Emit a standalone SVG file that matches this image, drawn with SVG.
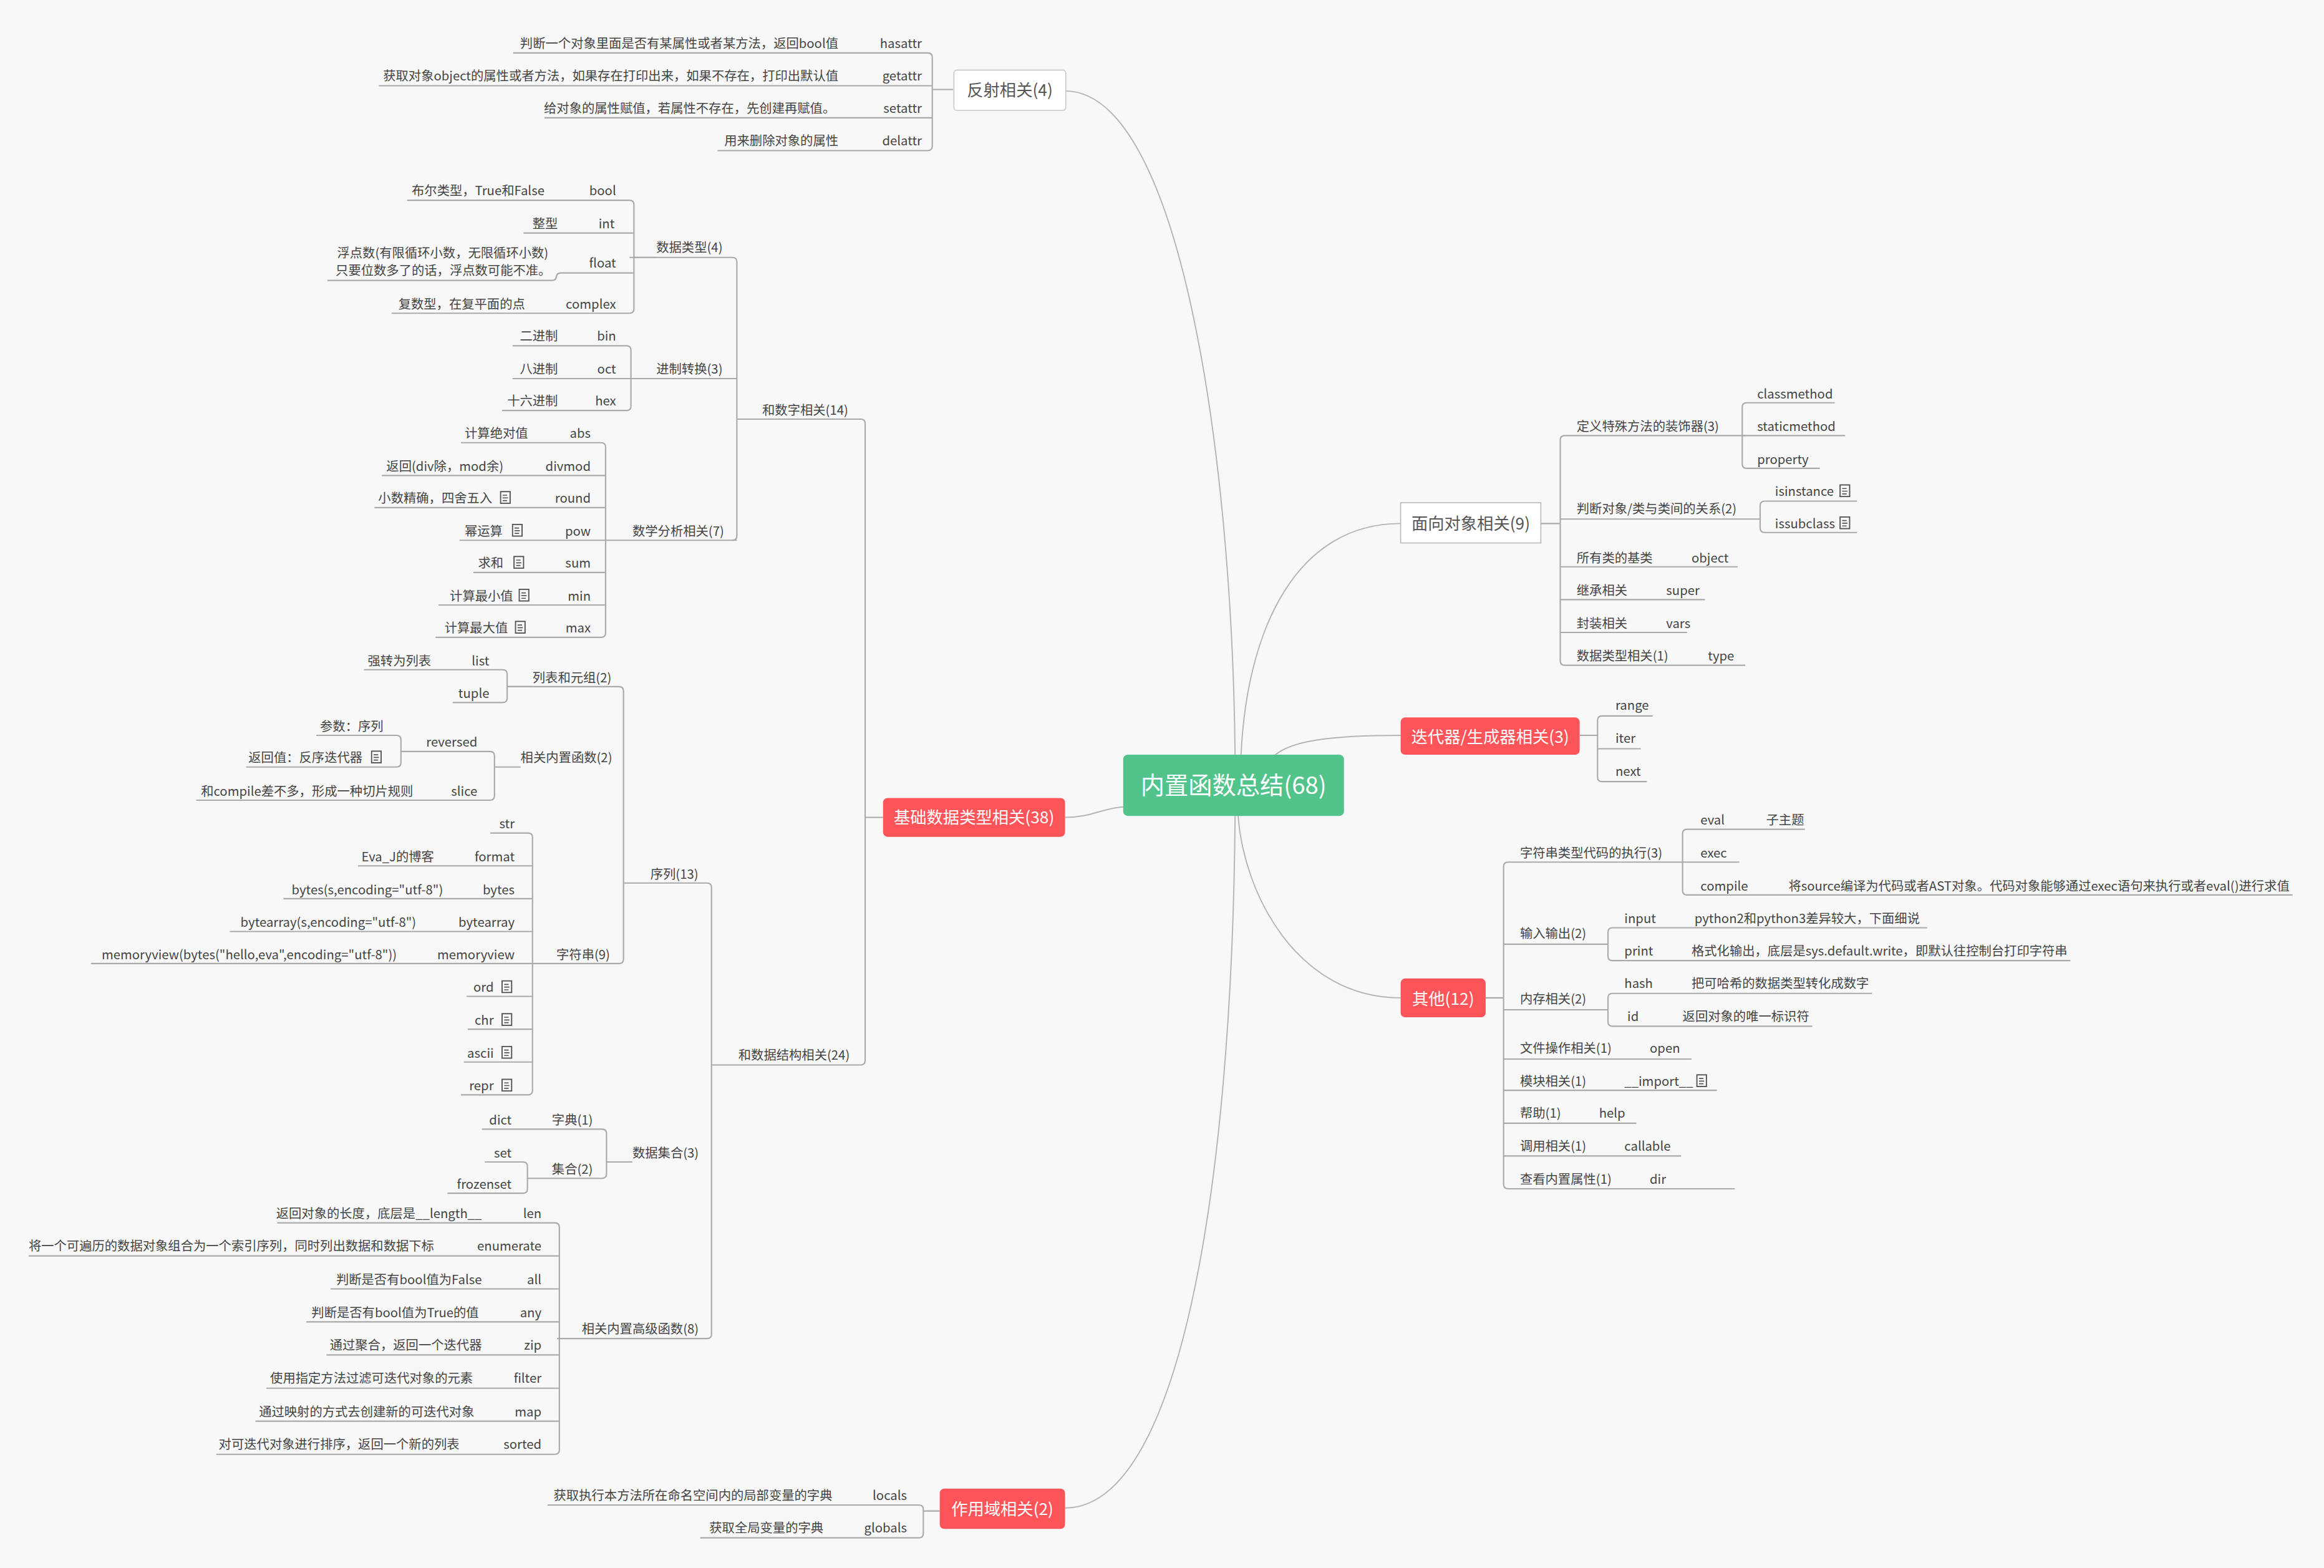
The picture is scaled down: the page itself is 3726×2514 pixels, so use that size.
<svg xmlns="http://www.w3.org/2000/svg" xmlns:xlink="http://www.w3.org/1999/xlink" width="3726" height="2514" viewBox="0 0 3726 2514">
<style>
.l{fill:none;stroke:#aaaaaa;stroke-width:0.9}
.c{fill:none;stroke:#b5b5b5;stroke-width:0.8}
text{font-family:"Noto Sans CJK SC","Noto Sans",sans-serif;font-size:8.5px;fill:#444}
.e{text-anchor:end}
.m{text-anchor:middle}
.n{font-size:11px;fill:#555}
.w{font-size:11px;fill:#fff}
.cen{font-size:16px;fill:#fff}
</style>
<defs>
<symbol id="nt" viewBox="0 0 8 9" width="8" height="9"><rect x="0.6" y="0.6" width="6.4" height="7.8" fill="none" stroke="#555" stroke-width="0.8"/><path d="M2,3H5M2,4.8H5.5M2,6.6H5" stroke="#555" stroke-width="0.7"/></symbol>
</defs>
<rect width="3726" height="2514" fill="#f8f8f8"/>
<g transform="scale(2.3915)">
<g id="connectors">
<path class="c" d="M714,61 C790,61 826,300 828,506"/>
<path class="c" d="M714,1011 C790,1011 826,800 828,547"/>
<path class="c" d="M714,548 C732,548 738,542 753,541"/>
<path class="c" d="M939,351 C870,351 836,420 832,506"/>
<path class="c" d="M939,493 C890,493 866,497 855,506"/>
<path class="c" d="M939,669 C870,669 834,600 830,547"/>
<!-- 反射 -->
<path class="l" d="M344,35.5H622Q625,35.5 625,38.5V98Q625,101 622,101H481M254,57.5H625M365,79H625M625,60H639"/>
<!-- 基础 -->
<path class="l" d="M511,281H577Q580,281 580,284V711Q580,714 577,714H477M580,548H592"/>
<path class="l" d="M422,172.6H491Q494,172.6 494,175.6V359.2Q494,362.2 491,362.2M494,281H511"/>
<path class="l" d="M273,134.3H422Q425,134.3 425,137.3V207Q425,210 422,210H262.5M351,156.2H425M219.5,188H370Q373,188 373,185V186Q373,183 376,183H425M425,172.6H440"/>
<path class="l" d="M343.6,231.8H420Q423,231.8 423,234.8V272.2Q423,275.2 420,275.2H336.6M343.6,253.8H494"/>
<path class="l" d="M309,296.8H403Q406,296.8 406,299.8V424.3Q406,427.3 403,427.3H292M256,318.8H406M251,340.3H406M308,362.2H494M317.4,383.8H406M294,405.6H406"/>
<path class="l" d="M418,592H474Q477,592 477,595V894.4Q477,897.4 474,897.4H373.4"/>
<path class="l" d="M340,460.3H415Q418,460.3 418,463.3V643Q418,646 415,646H61"/>
<path class="l" d="M244,449H337Q340,449 340,452V468Q340,471 337,471H303.5M340,460.3H357"/>
<path class="l" d="M268.8,503.8H328.5Q331.5,503.8 331.5,506.8V533.5Q331.5,536.5 328.5,536.5H131.5M331.5,514.2H349"/>
<path class="l" d="M212,493H265.8Q268.8,493 268.8,496V511.2Q268.8,514.2 265.8,514.2H165"/>
<path class="l" d="M328.7,558.5H354Q357,558.5 357,561.5V731Q357,734 354,734H309M240,580.5H357M190,602.5H357M154,624.5H357M312.7,668H357M313.6,690H357M311,712H357"/>
<path class="l" d="M323,757H403.6Q406.6,757 406.6,760V787Q406.6,790 403.6,790H353.6M406.6,779H424"/>
<path class="l" d="M325,779H350.6Q353.6,779 353.6,782V797Q353.6,800 350.6,800H300"/>
<path class="l" d="M185.8,819.8H372Q375,819.8 375,822.8V972Q375,975 372,975H145M19.2,842H375M221.7,864.1H375M205.4,886.2H375M218.9,908.4H375M178.5,930.7H375M171.3,952.8H375"/>
<path class="l" d="M367,1009H616Q619,1009 619,1012V1028Q619,1031 616,1031H469.4M619,1013H630"/>
<!-- 面向对象 -->
<path class="l" d="M1033,351H1046M1170,292H1049Q1046,292 1046,295V443Q1046,446 1049,446H1170M1046,348H1180M1046,380H1165M1046,402H1143M1046,424H1131"/>
<path class="l" d="M1230,270H1171Q1168,270 1168,273V311Q1168,314 1171,314H1220M1168,292H1237"/>
<path class="l" d="M1245,336H1183Q1180,336 1180,339V354Q1180,357 1183,357H1245"/>
<!-- 迭代器 -->
<path class="l" d="M1059,493H1071M1108,480H1074Q1071,480 1071,483V521Q1071,524 1074,524H1104M1071,502H1100"/>
<!-- 其他 -->
<path class="l" d="M996,669H1008M1128,578H1011Q1008,578 1008,581V794Q1008,797 1011,797H1130H1163M1008,633H1078M1008,677H1078M1008,710H1134M1008,731H1151M1008,753H1097M1008,775H1127"/>
<path class="l" d="M1210,556H1131Q1128,556 1128,559V597Q1128,600 1131,600H1537M1128,578H1166"/>
<path class="l" d="M1292,622H1081Q1078,622 1078,625V641Q1078,644 1081,644H1388"/>
<path class="l" d="M1255,666H1081Q1078,666 1078,669V685Q1078,688 1081,688H1215"/>
</g>
<g id="center"><rect x="753" y="506" width="148" height="41" rx="3" fill="#52c48b"/><text class="cen m" x="827" y="532.5">内置函数总结(68)</text></g>
<g id="fanshe"><rect x="639.5" y="47" width="75" height="27" rx="2" fill="#fff" stroke="#c8c8c8" stroke-width="0.7"/><text class="n m" x="677" y="64.5">反射相关(4)</text>
<text class="e" x="618" y="32">hasattr</text><text class="e" x="562" y="32">判断一个对象里面是否有某属性或者某方法，返回bool值</text>
<text class="e" x="618" y="54">getattr</text><text class="e" x="562" y="54">获取对象object的属性或者方法，如果存在打印出来，如果不存在，打印出默认值</text>
<text class="e" x="618" y="75.5">setattr</text><text class="e" x="560" y="75.5">给对象的属性赋值，若属性不存在，先创建再赋值。</text>
<text class="e" x="618" y="97.5">delattr</text><text class="e" x="562" y="97.5">用来删除对象的属性</text></g>
<g id="jichu"><rect x="592" y="535" width="122" height="26" rx="3" fill="#fd5459"/><text class="w m" x="653" y="552">基础数据类型相关(38)</text>
<text x="511" y="278">和数字相关(14)</text>
<text x="440" y="169">数据类型(4)</text>
<text class="e" x="413" y="131">bool</text><text class="e" x="365" y="131">布尔类型，True和False</text>
<text class="e" x="412" y="153">int</text><text class="e" x="374" y="153">整型</text>
<text class="e" x="413" y="179.5">float</text><text x="226" y="172.5">浮点数(有限循环小数，无限循环小数)</text><text x="225" y="184.5">只要位数多了的话，浮点数可能不准。</text>
<text class="e" x="413" y="207">complex</text><text class="e" x="352" y="207">复数型，在复平面的点</text>
<text x="440" y="250.5">进制转换(3)</text>
<text class="e" x="413" y="228.5">bin</text><text class="e" x="374" y="228.5">二进制</text>
<text class="e" x="413" y="250.5">oct</text><text class="e" x="374" y="250.5">八进制</text>
<text class="e" x="413" y="272">hex</text><text class="e" x="374" y="272">十六进制</text>
<text x="424" y="359">数学分析相关(7)</text>
<text class="e" x="396" y="293.5">abs</text><text class="e" x="354" y="293.5">计算绝对值</text>
<text class="e" x="396" y="315.5">divmod</text><text class="e" x="337.5" y="315.5">返回(div除，mod余)</text>
<text class="e" x="396" y="337">round</text><text class="e" x="330" y="337">小数精确，四舍五入</text><use href="#nt" x="335" y="329"/>
<text class="e" x="396" y="359">pow</text><text class="e" x="337" y="359">幂运算</text><use href="#nt" x="343" y="351"/>
<text class="e" x="396" y="380.5">sum</text><text class="e" x="337.5" y="380.5">求和</text><use href="#nt" x="344" y="372.5"/>
<text class="e" x="396" y="402.5">min</text><text class="e" x="344" y="402.5">计算最小值</text><use href="#nt" x="347.5" y="394.5"/>
<text class="e" x="396" y="424">max</text><text class="e" x="340.5" y="424">计算最大值</text><use href="#nt" x="345" y="416"/>
<text x="495" y="710.5">和数据结构相关(24)</text>
<text x="436" y="589">序列(13)</text>
<text x="357" y="457.5">列表和元组(2)</text>
<text class="e" x="328" y="446">list</text><text class="e" x="289" y="446">强转为列表</text>
<text class="e" x="328" y="468">tuple</text>
<text x="349" y="511">相关内置函数(2)</text>
<text class="e" x="320" y="500.5">reversed</text>
<text class="e" x="257" y="490">参数：序列</text><text class="e" x="243" y="511">返回值：反序迭代器</text><use href="#nt" x="248.5" y="503"/>
<text class="e" x="320" y="533.5">slice</text><text class="e" x="277" y="533.5">和compile差不多，形成一种切片规则</text>
<text x="373" y="643">字符串(9)</text>
<text class="e" x="345" y="555.5">str</text>
<text class="e" x="345" y="577.5">format</text><text class="e" x="291" y="577.5">Eva_J的博客</text>
<text class="e" x="345" y="599.5">bytes</text><text class="e" x="297" y="599.5">bytes(s,encoding="utf-8")</text>
<text class="e" x="345" y="621.5">bytearray</text><text class="e" x="279" y="621.5">bytearray(s,encoding="utf-8")</text>
<text class="e" x="345" y="643">memoryview</text><text class="e" x="266" y="643">memoryview(bytes("hello,eva",encoding="utf-8"))</text>
<text class="e" x="331" y="665">ord</text><use href="#nt" x="336" y="657"/>
<text class="e" x="331" y="687">chr</text><use href="#nt" x="336" y="679"/>
<text class="e" x="331" y="709">ascii</text><use href="#nt" x="336" y="701"/>
<text class="e" x="331" y="731">repr</text><use href="#nt" x="336" y="723"/>
<text x="424" y="776">数据集合(3)</text>
<text x="370" y="754">字典(1)</text><text class="e" x="343" y="754">dict</text>
<text x="370" y="787">集合(2)</text>
<text class="e" x="343" y="776">set</text><text class="e" x="343" y="797">frozenset</text>
<text x="390" y="894">相关内置高级函数(8)</text>
<text class="e" x="363" y="816.5">len</text><text class="e" x="323" y="816.5">返回对象的长度，底层是__length__</text>
<text class="e" x="363" y="838.5">enumerate</text><text class="e" x="291" y="838.5">将一个可遍历的数据对象组合为一个索引序列，同时列出数据和数据下标</text>
<text class="e" x="363" y="861">all</text><text class="e" x="323" y="861">判断是否有bool值为False</text>
<text class="e" x="363" y="883">any</text><text class="e" x="321" y="883">判断是否有bool值为True的值</text>
<text class="e" x="363" y="905">zip</text><text class="e" x="323" y="905">通过聚合，返回一个迭代器</text>
<text class="e" x="363" y="927">filter</text><text class="e" x="317" y="927">使用指定方法过滤可迭代对象的元素</text>
<text class="e" x="363" y="949.5">map</text><text class="e" x="318" y="949.5">通过映射的方式去创建新的可迭代对象</text>
<text class="e" x="363" y="971.5">sorted</text><text class="e" x="308" y="971.5">对可迭代对象进行排序，返回一个新的列表</text></g>
<g id="zuoyongyu"><rect x="630" y="998" width="84" height="27" rx="3" fill="#fd5459"/><text class="w m" x="672" y="1015.5">作用域相关(2)</text>
<text class="e" x="608" y="1005.5">locals</text><text class="e" x="558" y="1005.5">获取执行本方法所在命名空间内的局部变量的字典</text>
<text class="e" x="608" y="1027.5">globals</text><text class="e" x="552" y="1027.5">获取全局变量的字典</text></g>
<g id="mianxiang"><rect x="939" y="337" width="94" height="27" fill="#fff" stroke="#bbb" stroke-width="0.7"/><text class="n m" x="986" y="355">面向对象相关(9)</text>
<text x="1057" y="289">定义特殊方法的装饰器(3)</text>
<text x="1178" y="267">classmethod</text><text x="1178" y="289">staticmethod</text><text x="1178" y="311">property</text>
<text x="1057" y="344">判断对象/类与类间的关系(2)</text>
<text x="1190" y="332.5">isinstance</text><use href="#nt" x="1233" y="324.5"/>
<text x="1190" y="354">issubclass</text><use href="#nt" x="1233" y="346"/>
<text x="1057" y="377">所有类的基类</text><text x="1134" y="377">object</text>
<text x="1057" y="399">继承相关</text><text x="1117" y="399">super</text>
<text x="1057" y="421">封装相关</text><text x="1117" y="421">vars</text>
<text x="1057" y="443">数据类型相关(1)</text><text x="1145" y="443">type</text></g>
<g id="diedai"><rect x="939" y="481" width="120" height="25" rx="3" fill="#fd5459"/><text class="w m" x="999" y="498">迭代器/生成器相关(3)</text>
<text x="1083" y="476">range</text><text x="1083" y="498">iter</text><text x="1083" y="520">next</text></g>
<g id="qita"><rect x="939" y="656" width="57" height="26" rx="3" fill="#fd5459"/><text class="w m" x="967.5" y="673.5">其他(12)</text>
<text x="1019" y="575">字符串类型代码的执行(3)</text>
<text x="1140" y="553">eval</text><text x="1184" y="553">子主题</text>
<text x="1140" y="575">exec</text>
<text x="1140" y="597">compile</text><text x="1199" y="597">将source编译为代码或者AST对象。代码对象能够通过exec语句来执行或者eval()进行求值</text>
<text x="1019" y="629">输入输出(2)</text>
<text x="1089" y="619">input</text><text x="1136" y="619">python2和python3差异较大，下面细说</text>
<text x="1089" y="640.5">print</text><text x="1134" y="640.5">格式化输出，底层是sys.default.write，即默认往控制台打印字符串</text>
<text x="1019" y="673">内存相关(2)</text>
<text x="1089" y="662.5">hash</text><text x="1134" y="662.5">把可哈希的数据类型转化成数字</text>
<text x="1091" y="684.5">id</text><text x="1128" y="684.5">返回对象的唯一标识符</text>
<text x="1019" y="706">文件操作相关(1)</text><text x="1106" y="706">open</text>
<text x="1019" y="728">模块相关(1)</text><text x="1089" y="728">__import__</text><use href="#nt" x="1137" y="720"/>
<text x="1019" y="749.5">帮助(1)</text><text x="1072" y="749.5">help</text>
<text x="1019" y="771.5">调用相关(1)</text><text x="1089" y="771.5">callable</text>
<text x="1019" y="793.5">查看内置属性(1)</text><text x="1106" y="793.5">dir</text></g>
</g>
</svg>
